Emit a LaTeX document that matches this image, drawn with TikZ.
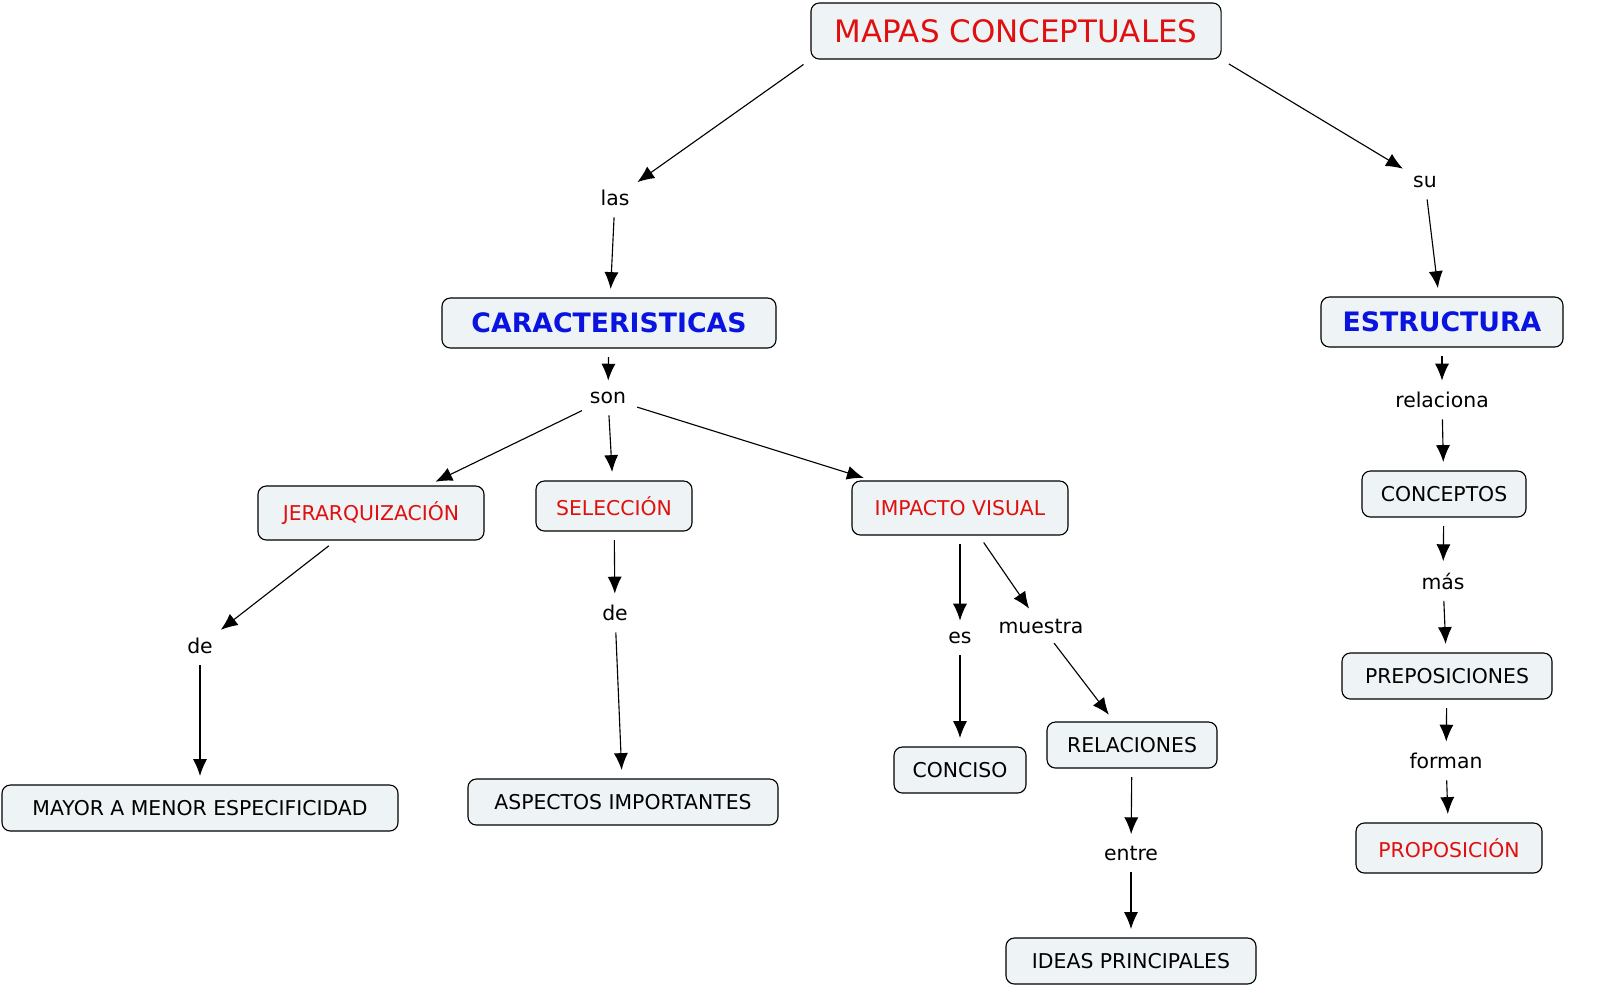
\documentclass[tikz,border=0pt]{standalone}
\usepackage{fontspec}
\setmainfont{DejaVu Sans}
\usetikzlibrary{arrows.meta}
\definecolor{boxfill}{HTML}{EEF3F5}
\definecolor{cred}{HTML}{E01010}
\definecolor{cblue}{HTML}{0A14E0}
\tikzset{
  concept/.style={draw, rounded corners=6pt, fill=boxfill, thick, minimum height=1.15cm, font=\fontsize{14.5}{17}\selectfont},
  link/.style={font=\fontsize{14.5}{17}\selectfont, inner sep=2pt},
  arr/.style={-{Latex[length=12pt,width=10pt]}, thick, shorten <=6pt, shorten >=6pt}
}
\begin{document}
\begin{tikzpicture}[x=0.025cm, y=-0.025cm]
\useasboundingbox (0,0) rectangle (1600,1007);
% concepts
\node[concept, minimum width=10.25cm, minimum height=1.4cm, text=cred, font=\fontsize{22}{26}\selectfont] (mapas) at (1016,31) {MAPAS CONCEPTUALES};
\node[concept, minimum width=8.35cm, minimum height=1.25cm, text=cblue, font=\fontsize{19}{22}\selectfont\bfseries] (carac) at (609,323) {CARACTERISTICAS};
\node[concept, minimum width=6.05cm, minimum height=1.25cm, text=cblue, font=\fontsize{19}{22}\selectfont\bfseries] (estru) at (1442,322) {ESTRUCTURA};
\node[concept, minimum width=5.65cm, minimum height=1.35cm, text=cred] (jerar) at (371,513) {JERARQUIZACIÓN};
\node[concept, minimum width=3.9cm, minimum height=1.25cm, text=cred] (selec) at (614,506) {SELECCIÓN};
\node[concept, minimum width=5.4cm, minimum height=1.35cm, text=cred] (impac) at (960,508) {IMPACTO VISUAL};
\node[concept, minimum width=9.9cm] (mayor) at (200,808) {MAYOR A MENOR ESPECIFICIDAD};
\node[concept, minimum width=7.75cm] (aspec) at (623,802) {ASPECTOS IMPORTANTES};
\node[concept, minimum width=3.3cm] (conci) at (960,770) {CONCISO};
\node[concept, minimum width=4.25cm] (relac) at (1132,745) {RELACIONES};
\node[concept, minimum width=6.25cm] (ideas) at (1131,961) {IDEAS PRINCIPALES};
\node[concept, minimum width=4.1cm] (conce) at (1444,494) {CONCEPTOS};
\node[concept, minimum width=5.25cm] (prepo) at (1447,676) {PREPOSICIONES};
\node[concept, minimum width=4.65cm, minimum height=1.25cm, text=cred] (propo) at (1449,848) {PROPOSICIÓN};
% linking phrases
\node[link] (las) at (615,198) {las};
\node[link] (su) at (1425,182) {su};
\node[link] (son) at (608,398) {son};
\node[link] (de1) at (200,646) {de};
\node[link] (de2) at (615,613) {de};
\node[link] (es) at (960,638) {es};
\node[link] (muest) at (1041,626) {muestra};
\node[link] (entre) at (1131,853) {entre};
\node[link] (rel) at (1442,400) {relaciona};
\node[link] (mas) at (1443,581) {más};
\node[link] (form) at (1446,761) {forman};
% connectors
\draw[arr] (mapas.south west) -- (las);
\draw[arr] (las) -- (carac);
\draw[arr] (mapas.south east) -- (su);
\draw[arr] (su) -- (estru);
\draw[arr] (carac) -- (son);
\draw[arr] (son) -- (jerar);
\draw[arr] (son) -- (selec);
\draw[arr] (son) -- (impac);
\draw[arr] (jerar) -- (de1);
\draw[arr] (de1) -- (mayor);
\draw[arr] (selec) -- (de2);
\draw[arr] (de2) -- (aspec);
\draw[arr] (impac.south) -- (es);
\draw[arr] (es) -- (conci);
\draw[arr] (impac) -- (muest);
\draw[arr] (muest) -- (relac);
\draw[arr] (relac) -- (entre);
\draw[arr] (entre) -- (ideas);
\draw[arr] (estru) -- (rel);
\draw[arr] (rel) -- (conce);
\draw[arr] (conce) -- (mas);
\draw[arr] (mas) -- (prepo);
\draw[arr] (prepo) -- (form);
\draw[arr] (form) -- (propo);
\end{tikzpicture}
\end{document}
